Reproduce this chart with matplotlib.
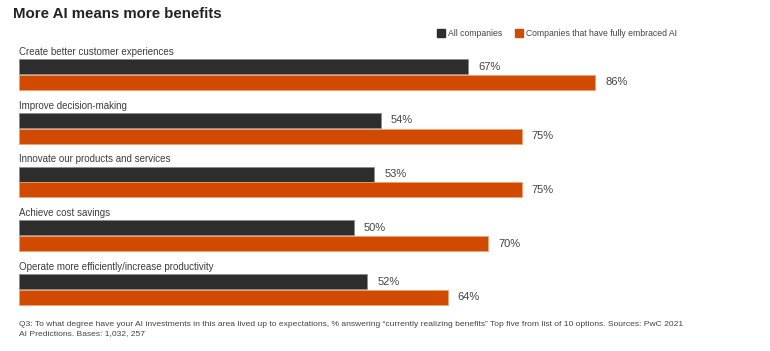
import matplotlib
matplotlib.use("Agg")
import matplotlib.pyplot as plt
from matplotlib.patches import Rectangle

categories = [
    "Create better customer experiences",
    "Improve decision-making",
    "Innovate our products and services",
    "Achieve cost savings",
    "Operate more efficiently/increase productivity",
]
all_companies = [67, 54, 53, 50, 52]
embraced_ai = [86, 75, 75, 70, 64]
series_names = ["All companies", "Companies that have fully embraced AI"]

title = "More AI means more benefits"
footnote = ("Q3: To what degree have your AI investments in this area lived up to expectations, "
            "% answering \u201ccurrently realizing benefits\u201d Top five from list of 10 options. "
            "Sources: PwC 2021\nAI Predictions. Bases: 1,032, 257")

DARK = "#2d2d2d"
ORANGE = "#d04a02"
W, H = 770, 351

plt.rcParams['font.family'] = ['Liberation Sans', 'DejaVu Sans']

fig = plt.figure(figsize=(W / 100, H / 100), dpi=100)
ax = fig.add_axes([0, 0, 1, 1])
# 1 % = 6.7 px, bars start at x = 19 px; y axis runs in pixels from the top
scale = 6.7
ax.set_xlim(-19 / scale, (W - 19) / scale)
ax.set_ylim(H, 0)
ax.axis("off")

step = 53.75
bar_h = 15.2
for i, cat in enumerate(categories):
    top = 59 + step * i
    y_dark = top + bar_h / 2
    y_org = top + bar_h + 0.6 + bar_h / 2
    ax.barh(y_dark, all_companies[i], height=bar_h, left=0, color=DARK,
            edgecolor="#8c8c8c", linewidth=0.6)
    ax.barh(y_org, embraced_ai[i], height=bar_h, left=0, color=ORANGE,
            edgecolor="#f0a070", linewidth=0.6)
    ax.text(0, top - 7, cat, fontsize=7.0, color="#3d3d3d", va="center", ha="left")
    ax.text(all_companies[i] + 10 / scale, y_dark, f"{all_companies[i]}%",
            fontsize=8, color="#444444", va="center", ha="left")
    ax.text(embraced_ai[i] + 10 / scale, y_org, f"{embraced_ai[i]}%",
            fontsize=8, color="#444444", va="center", ha="left")


def fx(px):
    return px / W


def fy(py):
    return 1 - py / H


fig.text(fx(13), fy(14.5), title, fontsize=10.8, fontweight="bold",
         color="#222222", va="center", ha="left")

# legend
for x0, col, name in [(437, DARK, series_names[0]), (515, ORANGE, series_names[1])]:
    fig.patches.append(Rectangle((fx(x0), fy(37.3)), fx(7.5), 8 / H, color=col,
                                 transform=fig.transFigure, figure=fig))
    fig.text(fx(x0 + 10.5), fy(33.8), name, fontsize=6.2, color="#444444",
             va="center", ha="left")

fig.text(fx(19), fy(329), footnote, fontsize=6.1, color="#444444",
         va="center", ha="left", linespacing=1.3)

fig.savefig("out.png", dpi=100, facecolor="white")
